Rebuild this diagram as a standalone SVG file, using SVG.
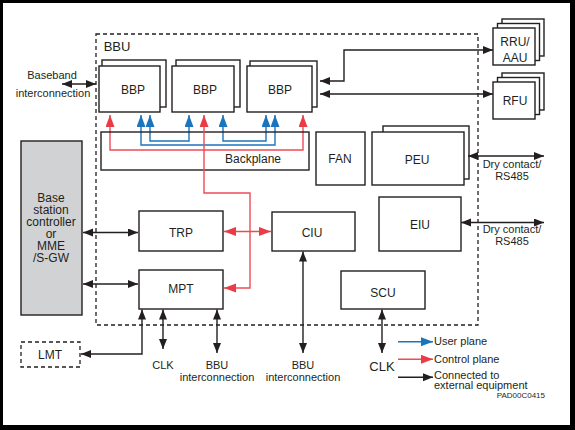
<svg xmlns="http://www.w3.org/2000/svg" width="575" height="430" viewBox="0 0 575 430">
<style>
text{font-family:"Liberation Sans",Arial,sans-serif;fill:#231f20;text-anchor:middle}
text.st{text-anchor:start}
text.en{text-anchor:end}
.box{fill:#fff;stroke:#231f20;stroke-width:1.4}
.t12{font-size:12px}
.t11{font-size:11px}
.blk{fill:none;stroke:#231f20;stroke-width:1.4}
.blu{fill:none;stroke:#1b75bc;stroke-width:1.4}
.red{fill:none;stroke:#ef4b55;stroke-width:1.4}
</style>
<defs>
<marker id="ak" markerUnits="userSpaceOnUse" markerWidth="11" markerHeight="9" refX="10" refY="4" orient="auto-start-reverse"><path d="M0,0 L10,4 L0,8 z" fill="#231f20"/></marker>
<marker id="ab" markerUnits="userSpaceOnUse" markerWidth="13" markerHeight="10" refX="12" refY="4.5" orient="auto-start-reverse"><path d="M0,0 L12,4.5 L0,9 z" fill="#1b75bc"/></marker>
<marker id="ar" markerUnits="userSpaceOnUse" markerWidth="13" markerHeight="10" refX="12" refY="4.5" orient="auto-start-reverse"><path d="M0,0 L12,4.5 L0,9 z" fill="#e83c46"/></marker>
</defs>
<rect x="0" y="0" width="575" height="430" fill="#000"/>
<rect x="3" y="3" width="567" height="422" fill="#fff"/>

<g id="bbu">
<rect x="96" y="34" width="382" height="291" fill="none" stroke="#231f20" stroke-width="1.3" stroke-dasharray="4,3"/>
<text x="117" y="51" style="font-size:13px">BBU</text>
</g>

<g id="connectors">
<path class="red" d="M110,115 V150 H303 V115" marker-start="url(#ar)" marker-end="url(#ar)"/>
<path class="blu" d="M141,115 V145 H275 V115" marker-start="url(#ab)" marker-end="url(#ab)"/>
<path class="blu" d="M150,115 V141 H189 V115" marker-start="url(#ab)" marker-end="url(#ab)"/>
<path class="blu" d="M223,115 V141 H266 V115" marker-start="url(#ab)" marker-end="url(#ab)"/>
</g>

<g id="bbp1"><rect class="box" x="102" y="60" width="64" height="47"/><rect class="box" x="99" y="66" width="61" height="46"/><text class="t12" x="133" y="94">BBP</text></g>
<g id="bbp2"><rect class="box" x="176" y="60" width="64" height="47"/><rect class="box" x="172" y="66" width="62" height="46"/><text class="t12" x="205" y="94">BBP</text></g>
<g id="bbp3"><rect class="box" x="250" y="61" width="67" height="46"/><rect class="box" x="247" y="66" width="65" height="46"/><text class="t12" x="280" y="94">BBP</text></g>

<g id="backplane"><rect x="101" y="132" width="208" height="38" fill="none" stroke="#231f20" stroke-width="1.4"/><text class="t12" x="253" y="163">Backplane</text></g>
<g id="fan"><rect class="box" x="316" y="132" width="49" height="53"/><text class="t12" x="340" y="163">FAN</text></g>
<g id="peu"><rect class="box" x="383" y="126" width="86" height="53"/><rect class="box" x="372" y="132" width="92" height="53"/><text class="t12" x="417" y="164">PEU</text></g>

<g id="rru"><rect class="box" x="502" y="19" width="42" height="37"/><rect class="box" x="497.5" y="23.5" width="42" height="37"/><rect class="box" x="493" y="28" width="42" height="37"/><text class="t12" x="515" y="45.5">RRU/</text><text class="t12" x="515" y="62">AAU</text></g>
<g id="rfu"><rect class="box" x="502" y="73" width="42" height="37"/><rect class="box" x="497.5" y="77.5" width="42" height="37"/><rect class="box" x="493" y="82" width="42" height="37"/><text class="t12" x="515" y="105">RFU</text></g>

<g id="bsc"><rect x="21" y="141" width="61" height="174" fill="#d1d2d4" stroke="#231f20" stroke-width="1.4"/>
<text class="t12" x="51" y="201.5">Base</text><text class="t12" x="51" y="213.5">station</text><text class="t12" x="51" y="225.5">controller</text><text class="t12" x="51" y="237.5">or</text><text class="t12" x="51" y="249.5">MME</text><text class="t12" x="51" y="261.5">/S-GW</text></g>

<g id="trp"><rect class="box" x="139" y="211" width="84" height="40"/><text class="t12" x="181" y="236.5">TRP</text></g>
<g id="mpt"><rect class="box" x="139" y="270" width="84" height="39"/><text class="t12" x="181" y="292.5">MPT</text></g>
<g id="ciu"><rect class="box" x="272" y="212" width="83" height="39"/><text class="t12" x="312" y="236.5">CIU</text></g>
<g id="eiu"><rect class="box" x="379" y="197" width="82" height="54"/><text class="t12" x="420" y="229">EIU</text></g>
<g id="scu"><rect class="box" x="341" y="271" width="84" height="38"/><text class="t12" x="383" y="296.5">SCU</text></g>
<g id="lmt"><rect x="21" y="342" width="59" height="25" fill="none" stroke="#231f20" stroke-width="1.3" stroke-dasharray="4,3"/><text class="t12" x="50" y="359">LMT</text></g>

<g id="links">
<path class="red" d="M204,115 V193 H250 V288 H224" marker-start="url(#ar)" marker-end="url(#ar)"/>
<path class="red" d="M224,231.5 H271" marker-start="url(#ar)" marker-end="url(#ar)"/>
<path class="blk" d="M62,84 H96" marker-start="url(#ak)" marker-end="url(#ak)"/>
<path class="blk" d="M320,81 H344 V50 H493" marker-start="url(#ak)" marker-end="url(#ak)"/>
<path class="blk" d="M320,94 H493" marker-start="url(#ak)" marker-end="url(#ak)"/>
<path class="blk" d="M468,156 H544" marker-start="url(#ak)" marker-end="url(#ak)"/>
<path class="blk" d="M461,222.5 H544" marker-start="url(#ak)" marker-end="url(#ak)"/>
<path class="blk" d="M83,232.5 H138" marker-start="url(#ak)" marker-end="url(#ak)"/>
<path class="blk" d="M83,284 H138" marker-start="url(#ak)" marker-end="url(#ak)"/>
<path class="blk" d="M142,309.5 V354 H81" marker-start="url(#ak)" marker-end="url(#ak)"/>
<path class="blk" d="M163,309.5 V349" marker-start="url(#ak)" marker-end="url(#ak)"/>
<path class="blk" d="M217,309.5 V353" marker-start="url(#ak)" marker-end="url(#ak)"/>
<path class="blk" d="M303,251.5 V353" marker-start="url(#ak)" marker-end="url(#ak)"/>
<path class="blk" d="M382,309.5 V353" marker-start="url(#ak)" marker-end="url(#ak)"/>
</g>

<g id="labels">
<text class="t11" x="52" y="79">Baseband</text>
<text class="t11" x="53" y="96.5">interconnection</text>
<text class="t11" x="512" y="168">Dry contact/</text>
<text class="t11" x="512" y="180">RS485</text>
<text class="t11" x="512" y="233">Dry contact/</text>
<text class="t11" x="512" y="245">RS485</text>
<text class="t11" x="163" y="369">CLK</text>
<text class="t11" x="217" y="369">BBU</text>
<text class="t11" x="217" y="380.5">interconnection</text>
<text class="t11" x="303" y="369">BBU</text>
<text class="t11" x="303" y="380.5">interconnection</text>
<text x="382" y="370.5" style="font-size:13px">CLK</text>
</g>

<g id="legend">
<path class="blu" d="M398,341.7 H433" marker-end="url(#ab)"/>
<path class="red" d="M398,359.3 H433" marker-end="url(#ar)"/>
<path class="blk" d="M398,377.3 H433" marker-end="url(#ak)"/>
<text class="t11 st" x="434" y="344.5">User plane</text>
<text class="t11 st" x="434" y="362.5">Control plane</text>
<text class="t11 st" x="434" y="378.5">Connected to</text>
<text class="t11 st" x="434" y="388.5">external equipment</text>
<text class="en" x="545" y="398" style="font-size:8px">PAD00C0415</text>
</g>
</svg>
